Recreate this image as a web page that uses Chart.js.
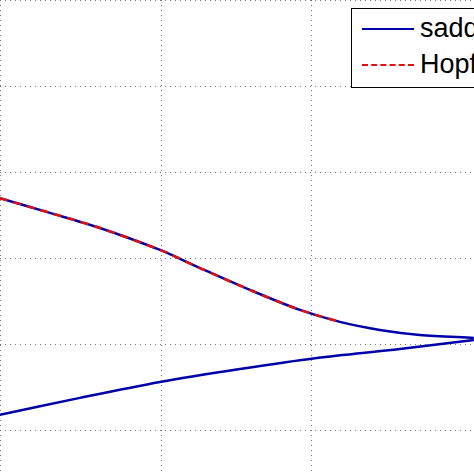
<!DOCTYPE html><html><head><script src="https://cdn.jsdelivr.net/npm/chart.js@4"></script>
<style>html,body{margin:0;padding:0;overflow:hidden;background:#fff}#w{position:relative;width:474px;height:474px;overflow:hidden}
#lg{position:absolute;left:351px;top:8px;width:160px;height:78px;border:1.5px solid #000;background:#fff;font-family:"Liberation Sans",Arial,sans-serif;font-size:27px;color:#000}
.r{position:absolute;left:10px;display:flex;align-items:center;white-space:nowrap}.r span{display:inline-block;width:52px;margin-right:6px}</style></head><body>
<div id="w"><canvas id="c" width="474" height="474"></canvas>
<div id="lg"><div class="r" style="top:4px"><span style="border-top:2px solid #0000a8"></span>saddle-node</div>
<div class="r" style="top:40px"><span style="border-top:2.5px dashed #e01010"></span>Hopf</div></div></div>
<script>
const upperX=[-0.08,0.254,0.588,0.989,1.256,1.590,1.924,2.191,2.458,2.725,3.086];
const upperY=[2.70,2.53,2.355,2.10,1.89,1.636,1.404,1.265,1.172,1.114,1.079];
const lowerX=[-0.08,0.454,0.989,1.523,2.037,2.592,3.086];
const lowerY=[0.186,0.383,0.568,0.719,0.847,0.951,1.056];
const hopfX=upperX.slice(0,8), hopfY=upperY.slice(0,8);
const pts=(xs,ys)=>xs.map((x,i)=>({x,y:ys[i]}));
new Chart(document.getElementById('c'),{type:'scatter',data:{datasets:[
{data:pts(hopfX,hopfY),showLine:true,borderColor:'#e01010',borderWidth:2.5,borderDash:[8,6],pointRadius:0,tension:0.3,fill:false},
{data:pts(upperX,upperY),showLine:true,borderColor:'#0000a8',borderWidth:2.5,pointRadius:0,tension:0.3,fill:false},
{data:pts(lowerX,lowerY),showLine:true,borderColor:'#0000a8',borderWidth:2.5,pointRadius:0,tension:0.3,fill:false}]},
options:{responsive:false,animation:false,layout:{padding:0},plugins:{legend:{display:false},tooltip:{enabled:false}},
scales:{x:{type:'linear',min:-0.08,max:3.087,ticks:{display:false,stepSize:1},border:{display:false,dash:[1,4]},grid:{color:'#777',drawTicks:false,lineWidth:1}},
y:{type:'linear',min:-0.5,max:5.0,ticks:{display:false,stepSize:1},border:{display:false,dash:[1,4]},grid:{color:'#777',drawTicks:false,lineWidth:1}}}}});
</script></body></html>
